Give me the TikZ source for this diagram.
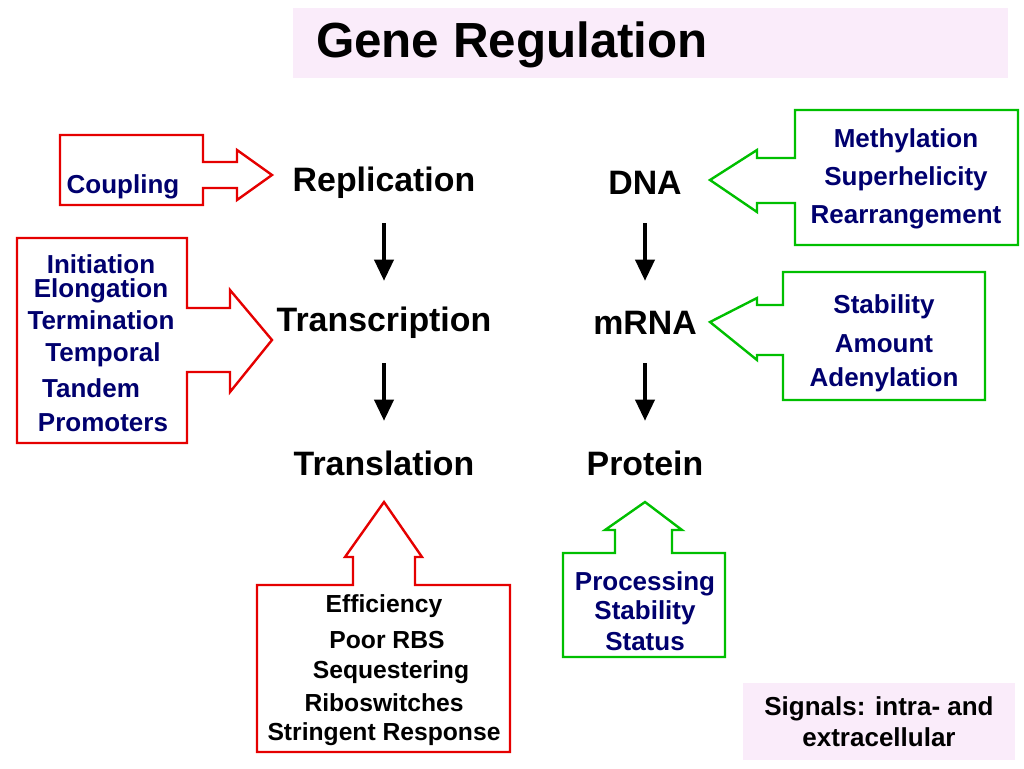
\documentclass[tikz,border=0pt]{standalone}
\usepackage{fontspec}
\usetikzlibrary{arrows.meta}
\setmainfont{Liberation Sans}
\begin{document}
\begin{tikzpicture}[x=0.75pt,y=-0.75pt,
 main/.style={font=\fontsize{25.4}{27}\selectfont\bfseries},
 side/.style={font=\fontsize{19.5}{21}\selectfont\bfseries,text=navy},
 bot/.style={font=\fontsize{18.5}{20}\selectfont\bfseries},
 redc/.style={draw=red!90!black,line width=1.8pt,line join=miter},
 grnc/.style={draw=green!75!black,line width=1.8pt,line join=miter},
 blk/.style={-{Triangle[length=16pt,width=14pt]},line width=3.5pt}]
\definecolor{navy}{RGB}{0,0,110}
\definecolor{lav}{RGB}{250,236,250}
\useasboundingbox (0,0) rectangle (1024,768);
\fill[lav] (293,8) rectangle (1008,78);
\node[font=\fontsize{37}{40}\selectfont\bfseries] (title) at (512,45) {Gene Regulation};
\node[main] (rep) at (384,183) {Replication};
\node[main] (dna) at (645,183) {DNA};
\node[main] (tra) at (384,323) {Transcription};
\node[main] (mrna) at (645,323) {mRNA};
\node[main] (tl) at (384,463) {Translation};
\node[main] (pro) at (645,463) {Protein};
\draw[blk] (rep) ++(0,40) -- ++(0,58);
\draw[blk] (dna) ++(0,40) -- ++(0,58);
\draw[blk] (tra) ++(0,40) -- ++(0,58);
\draw[blk] (mrna) ++(0,40) -- ++(0,58);
% red shapes
\draw[redc] (60,135)--(203,135)--(203,162)--(237,162)--(237,150)--(272,175)--(237,200)--(237,188)--(203,188)--(203,205)--(60,205)--cycle;
\node[side] (c) at (123,187) {Coupling};
\draw[redc] (17,238)--(187,238)--(187,308)--(230,308)--(230,290)--(272,340)--(230,392)--(230,372)--(187,372)--(187,443)--(17,443)--cycle;
\node[side] (i1) at (101,264) {Initiation};
\node[side] (i2) at (101,291) {Elongation};
\node[side] (i3) at (101,320) {Termination};
\node[side] (i4) at (103,355) {Temporal};
\node[side] (i5) at (91,388) {Tandem};
\node[side] (i6) at (103,423) {Promoters};
\draw[redc] (257,585)--(353,585)--(353,557)--(345,557)--(384,502)--(422,557)--(415,557)--(415,585)--(510,585)--(510,752)--(257,752)--cycle;
\node[bot] (b1) at (384,606) {Efficiency};
\node[bot] (b2) at (387,640) {Poor RBS};
\node[bot] (b3) at (391,672) {Sequestering};
\node[bot] (b4) at (384,703) {Riboswitches};
\node[bot] (b5) at (384,734) {Stringent Response};
% green shapes
\draw[grnc] (795,110)--(1018,110)--(1018,245)--(795,245)--(795,203)--(757,203)--(757,212)--(710,180)--(757,150)--(757,158)--(795,158)--cycle;
\node[side] (g1) at (906,141) {Methylation};
\node[side] (g2) at (906,179) {Superhelicity};
\node[side] (g3) at (906,217) {Rearrangement};
\draw[grnc] (783,272)--(985,272)--(985,400)--(783,400)--(783,355)--(757,355)--(757,360)--(710,322)--(757,298)--(757,305)--(783,305)--cycle;
\node[side] (h1) at (884,307) {Stability};
\node[side] (h2) at (884,344) {Amount};
\node[side] (h3) at (884,380) {Adenylation};
\draw[grnc] (563,553)--(615,553)--(615,530)--(605,530)--(645,502)--(682,530)--(672,530)--(672,553)--(725,553)--(725,657)--(563,657)--cycle;
\node[side] (p1) at (645,584) {Processing};
\node[side] (p2) at (645,613) {Stability};
\node[side] (p3) at (645,642) {Status};
\fill[lav] (743,683) rectangle (1015,760);
\node[align=center,font=\fontsize{19.5}{23}\selectfont\bfseries] (sig) at (879,722) {Signals: intra- and\\extracellular};
\end{tikzpicture}
\end{document}
